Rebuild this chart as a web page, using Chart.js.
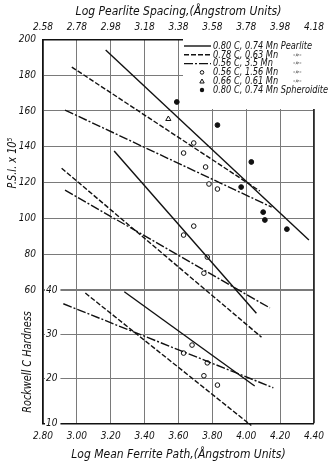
<!DOCTYPE html>
<html>
<head>
<meta charset="utf-8">
<script src="https://cdn.jsdelivr.net/npm/chart.js@4/dist/chart.umd.min.js"></script>
<style>html,body{margin:0;padding:0;background:#fff}</style>
</head>
<body>
<canvas id="chart" width="331" height="464"></canvas>
<script>
// tick labels
const bottomTicks = ['2.80', '3.00', '3.20', '3.40', '3.60', '3.80', '4.00', '4.20', '4.40'];
const topTicks = ['2.58', '2.78', '2.98', '3.18', '3.38', '3.58', '3.78', '3.98', '4.18'];

// fitted lines, [log ferrite path, value] end points
const pearliteTensile = [[3.17, 194], [4.37, 88]];
const pearliteYield = [[3.22, 137.6], [4.06, 47]];
const mn063Tensile = [[2.97, 184.5], [4.08, 115.3]];
const mn063Yield = [[2.91, 128], [4.09, 33.7]];
const mn35Tensile = [[2.93, 160.5], [4.15, 106.3]];
const mn35Yield = [[2.93, 115.8], [4.14, 50]];
// rockwell C lines
const pearliteHrc = [[3.28, 39.6], [4.05, 18.4]];
const mn063Hrc = [[3.05, 39.3], [4.03, 9.5]];
const mn35Hrc = [[2.92, 36.9], [4.16, 18]];

// measured points
const mn156Psi = [[3.69, 142.1], [3.63, 136.5], [3.76, 128.7], [3.78, 119.2], [3.83, 116.4],
  [3.69, 95.7], [3.63, 90.7], [3.77, 78.4], [3.75, 69.4]];
const mn156Hrc = [[3.68, 27.6], [3.63, 25.8], [3.77, 23.6], [3.75, 20.7], [3.83, 18.6]];
const mn061Psi = [[3.54, 155.5]];
const spheroPsi = [[3.59, 165], [3.83, 152.1], [4.03, 131.5], [3.97, 117.5], [4.10, 103.5], [4.11, 99.1], [4.24, 94]];

const FONT = "'Liberation Sans Narrow', 'DejaVu Sans Condensed', 'Liberation Sans', sans-serif";
const INK = '#111';
const GRID = '#7a7a7a';
const DASH = [5, 2];
const DASHDOT = [9, 2, 2, 2];

function pts(arr) {
  return arr.map(p => ({ x: p[0], y: p[1] }));
}

function lineSet(arr, dash, axis) {
  return {
    data: pts(arr), yAxisID: axis, showLine: true, borderColor: INK, borderWidth: 1.4,
    borderDash: dash, pointRadius: 0, fill: false
  };
}

function markSet(arr, style, filled, axis, r) {
  return {
    data: pts(arr), yAxisID: axis, showLine: false, pointStyle: style, pointRadius: r,
    pointBorderWidth: 1, pointBorderColor: INK, pointBackgroundColor: filled ? INK : '#fff'
  };
}

const legendItems = [
  { text: '0.80 C, 0.74 Mn Pearlite', kind: 'line', dash: [] },
  { text: '0.78 C, 0.63 Mn', kind: 'line', dash: DASH, ditto: true },
  { text: '0.56 C, 3.5 Mn', kind: 'line', dash: DASHDOT, ditto: true },
  { text: '0.56 C, 1.56 Mn', kind: 'circle', ditto: true },
  { text: '0.66 C, 0.61 Mn', kind: 'triangle', ditto: true },
  { text: '0.80 C, 0.74 Mn Spheroidite', kind: 'dot' }
];

// squeezes text into a narrower width, the original lettering is condensed
function narrowText(ctx, text, x, y, sx) {
  ctx.save();
  ctx.translate(x, y);
  ctx.scale(sx, 1);
  ctx.fillText(text, 0, 0);
  ctx.restore();
}

// draws frame, legend box and the two left titles
const extras = {
  id: 'extras',
  beforeDatasetsDraw(chart) {
    const ctx = chart.ctx;
    const a = chart.chartArea;
    ctx.save();
    ctx.strokeStyle = INK;
    ctx.lineWidth = 1.5;
    ctx.beginPath();
    ctx.moveTo(a.right, a.top);
    ctx.lineTo(a.right, a.bottom);
    ctx.stroke();

    // legend box
    ctx.fillStyle = '#fff';
    ctx.fillRect(183, 37, 148, 72);

    ctx.font = 'italic 11px ' + FONT;
    const sx = Math.min(1, 115 / ctx.measureText(legendItems[5].text).width);
    legendItems.forEach((it, i) => {
      const y = 46 + i * 8.8;
      ctx.strokeStyle = INK;
      ctx.fillStyle = INK;
      if (it.kind === 'line') {
        ctx.lineWidth = 1.4;
        ctx.setLineDash(it.dash);
        ctx.beginPath();
        ctx.moveTo(184, y);
        ctx.lineTo(211, y);
        ctx.stroke();
        ctx.setLineDash([]);
      } else if (it.kind === 'circle') {
        ctx.lineWidth = 1;
        ctx.beginPath();
        ctx.arc(202, y, 1.8, 0, Math.PI * 2);
        ctx.stroke();
      } else if (it.kind === 'triangle') {
        ctx.lineWidth = 1;
        ctx.beginPath();
        ctx.moveTo(202, y - 2.2);
        ctx.lineTo(204.2, y + 1.8);
        ctx.lineTo(199.8, y + 1.8);
        ctx.closePath();
        ctx.stroke();
      } else {
        ctx.beginPath();
        ctx.arc(202, y, 2.2, 0, Math.PI * 2);
        ctx.fill();
      }
      ctx.font = 'italic 11px ' + FONT;
      ctx.textBaseline = 'middle';
      ctx.textAlign = 'left';
      narrowText(ctx, it.text, 213, y, sx);
      if (it.ditto) {
        ctx.font = 'italic 7px ' + FONT;
        ctx.fillText('-\u00bb-', 293, y);
      }
    });
    ctx.restore();

    // left titles
    [['P.S.I. x 10\u2075', 13, 163], ['Rockwell C Hardness', 28, 362]].forEach(t => {
      ctx.save();
      ctx.font = 'italic 12px ' + FONT;
      ctx.textAlign = 'center';
      ctx.textBaseline = 'middle';
      ctx.fillStyle = INK;
      ctx.translate(t[1], t[2]);
      ctx.rotate(-Math.PI / 2);
      ctx.scale(0.9, 1);
      ctx.fillText(t[0], 0, 0);
      ctx.restore();
    });
  }
};

const tickFont = { family: FONT, style: 'italic', size: 10 };
const titleFont = { family: FONT, style: 'italic', size: 12 };

const chart = new Chart(document.getElementById('chart'), {
  type: 'scatter',
  data: {
    datasets: [
      lineSet(pearliteTensile, [], 'yP'),
      lineSet(pearliteYield, [], 'yP'),
      lineSet(mn063Tensile, DASH, 'yP'),
      lineSet(mn063Yield, DASH, 'yP'),
      lineSet(mn35Tensile, DASHDOT, 'yP'),
      lineSet(mn35Yield, DASHDOT, 'yP'),
      lineSet(pearliteHrc, [], 'yR'),
      Object.assign(lineSet(mn063Hrc, DASH, 'yR'), { clip: false }),
      lineSet(mn35Hrc, DASHDOT, 'yR'),
      markSet(mn156Psi, 'circle', false, 'yP', 2.3),
      markSet(mn156Hrc, 'circle', false, 'yR', 2.3),
      markSet(mn061Psi, 'triangle', false, 'yP', 3),
      markSet(spheroPsi, 'circle', true, 'yP', 2.4)
    ]
  },
  options: {
    responsive: false,
    animation: false,
    events: [],
    layout: { padding: { left: 0, right: 9, top: 0, bottom: 0 } },
    plugins: { legend: { display: false }, tooltip: { enabled: false } },
    scales: {
      x: {
        type: 'linear', position: 'bottom', min: 2.8, max: 4.4,
        afterFit: s => { s.height = 40.7; },
        ticks: {
          stepSize: 0.2, padding: 7, font: tickFont, color: INK, maxRotation: 0,
          callback: v => bottomTicks[Math.round((v - 2.8) / 0.2)]
        },
        grid: { color: GRID, lineWidth: 1, drawTicks: false },
        border: { color: INK, width: 1.5 },
        title: {
          display: true, text: 'Log Mean Ferrite Path,(\u00c5ngstrom Units)', font: titleFont,
          color: INK, padding: { top: 0, bottom: 2 }
        }
      },
      x2: {
        type: 'linear', position: 'top', min: 2.8, max: 4.4,
        afterFit: s => { s.height = 39.3; },
        ticks: {
          stepSize: 0.2, padding: 6, font: tickFont, color: INK, maxRotation: 0,
          callback: v => topTicks[Math.round((v - 2.8) / 0.2)]
        },
        grid: { display: false, drawTicks: false },
        border: { color: INK, width: 1.5 },
        title: {
          display: true, text: 'Log Pearlite Spacing,(\u00c5ngstrom Units)', font: titleFont,
          color: INK, padding: { top: 5, bottom: 0 }
        }
      },
      yP: {
        type: 'linear', position: 'left', weight: 1, min: -14.4, max: 200,
        afterFit: s => { s.width = 43; },
        afterBuildTicks: s => { s.ticks = s.ticks.filter(t => t.value >= 60); },
        ticks: { stepSize: 20, padding: 7, font: tickFont, color: INK },
        grid: { color: GRID, lineWidth: 1, drawTicks: false },
        border: { color: INK, width: 1.5 }
      },
      yR: {
        type: 'linear', position: 'left', weight: 0, min: 10, max: 96.4,
        afterFit: s => { s.width = 0; },
        afterBuildTicks: s => { s.ticks = s.ticks.filter(t => t.value <= 40); },
        ticks: {
          stepSize: 10, mirror: true, padding: 3, font: tickFont, color: INK,
          showLabelBackdrop: true, backdropColor: '#fff', backdropPadding: { left: 1, right: 3, top: 0, bottom: 0 }
        },
        grid: { color: GRID, lineWidth: 1, drawTicks: false },
        border: { display: false }
      }
    }
  },
  plugins: [extras]
});
</script>
</body>
</html>
